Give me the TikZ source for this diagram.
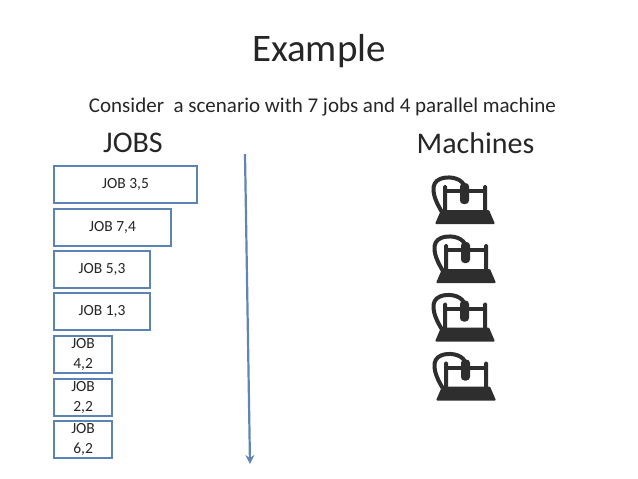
\documentclass[tikz,border=0pt]{standalone}
\usetikzlibrary{arrows.meta}
\usepackage{fontspec}
\setmainfont{Carlito}
\definecolor{boxblue}{HTML}{5B83B3}
\definecolor{arrowblue}{HTML}{5F86B5}
\definecolor{ink}{HTML}{2E2E2E}
\newcommand{\jobfont}{\fontsize{15.5}{20}\selectfont}
\tikzset{
  jobbox/.style={draw=boxblue,line width=2.2pt,fill=white,anchor=north west,inner sep=0pt,align=center,font=\jobfont,text=black!85},
  heading/.style={inner sep=0pt,text=black!85},
  machine/.pic={
    \fill[ink,rounded corners=1pt] (6,34) -- (54,34) -- (60,48) -- (0,48) -- cycle;
    \fill[ink,rounded corners=1.5pt] (8,9) rectangle (12,36);
    \fill[ink,rounded corners=1.5pt] (48,9) rectangle (52,36);
    \fill[ink] (10,13) rectangle (50,17);
    \fill[ink,rounded corners=3.5pt] (25,7) rectangle (34,28);
    \draw[ink,line width=4pt,line cap=round] (29,9) .. controls (25,1) and (12,0) .. (5,3) .. controls (-5,7) and (-3,20) .. (7,36);
  }
}
\begin{document}
\begin{tikzpicture}[x=1pt,y=-1pt]
\useasboundingbox (0,0) rectangle (638,479);
\node[heading,font=\fontsize{39}{44}\selectfont] (title) at (319,51) {Example};
\node[heading,font=\fontsize{21}{26}\selectfont] (sub) at (322.5,107.5) {Consider\ \ a scenario with 7 jobs and 4 parallel machine};
\node[heading,font=\fontsize{30}{34}\selectfont] (jobs) at (133,143) {JOBS};
\node[heading,font=\fontsize{30}{34}\selectfont] (mach) at (475.5,143) {Machines};
\node[jobbox,minimum width=143pt,minimum height=37pt] (j35) at (53,165) {\jobfont JOB 3,5};
\node[jobbox,minimum width=117pt,minimum height=37pt] (j74) at (53,207.5) {\jobfont JOB 7,4};
\node[jobbox,minimum width=96pt,minimum height=37pt] (j53) at (53,250) {\jobfont JOB 5,3};
\node[jobbox,minimum width=96pt,minimum height=37pt] (j13) at (53,292) {\jobfont JOB 1,3};
\node[jobbox,minimum width=58pt,minimum height=37pt] (j42) at (53,335) {\jobfont JOB\\\jobfont 4,2};
\node[jobbox,minimum width=58pt,minimum height=37pt] (j22) at (53,377.5) {\jobfont JOB\\\jobfont 2,2};
\node[jobbox,minimum width=58pt,minimum height=37pt] (j62) at (53,420) {\jobfont JOB\\\jobfont 6,2};
\coordinate (atop) at (245,154);
\coordinate (abot) at (250,464);
\draw[arrowblue,line width=2.2pt,-{Stealth[length=9pt,width=9pt]}] (atop) -- (abot);
\begin{scope}[shift={(435,176)}]\pic {machine};\end{scope}
\begin{scope}[shift={(436,235)},xscale=1.05]\pic {machine};\end{scope}
\begin{scope}[shift={(435,293.5)},yscale=.86]\pic {machine};\end{scope}
\begin{scope}[shift={(436,352.5)},xscale=1.05,yscale=.86]\pic {machine};\end{scope}
\end{tikzpicture}
\end{document}
